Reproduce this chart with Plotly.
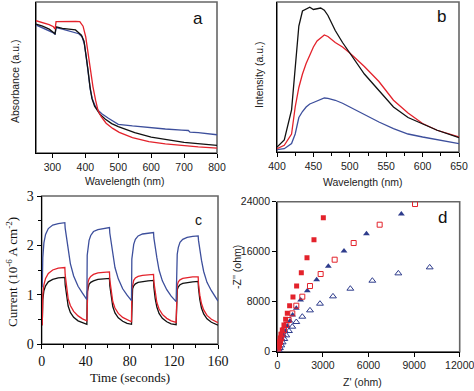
import plotly.graph_objects as go

# ---------------- Panel a: absorbance ----------------
a_black_x = [250, 270, 290, 303, 308, 311, 330, 350, 370, 378, 388, 396, 402, 408, 414, 420, 428, 436, 445,
             460, 480, 500, 550, 600, 650, 700, 750, 800]
a_black_y = [0.854, 0.84, 0.82, 0.80, 0.79, 0.836, 0.825, 0.82, 0.815, 0.80, 0.78, 0.74, 0.66, 0.55, 0.44, 0.36,
             0.31, 0.28, 0.255, 0.225, 0.195, 0.175, 0.135, 0.105, 0.085, 0.07, 0.06, 0.05]
a_red_x = [250, 270, 290, 303, 308, 311, 330, 350, 370, 383, 393, 401, 408, 415, 423, 431, 438, 448, 463,
           483, 503, 543, 593, 643, 693, 743, 800]
a_red_y = [0.876, 0.865, 0.85, 0.836, 0.82, 0.87, 0.872, 0.874, 0.872, 0.87, 0.84, 0.77, 0.66, 0.55, 0.44,
           0.35, 0.285, 0.24, 0.197, 0.163, 0.137, 0.102, 0.075, 0.06, 0.049, 0.04, 0.032]
a_blue_x = [250, 270, 290, 303, 308, 311, 330, 350, 370, 380, 390, 397, 403, 409, 415, 421, 430, 440, 450,
            470, 490, 500, 543, 593, 643, 693, 713, 718, 743, 800]
a_blue_y = [0.848, 0.83, 0.81, 0.796, 0.785, 0.83, 0.82, 0.81, 0.80, 0.79, 0.77, 0.72, 0.63, 0.52, 0.42, 0.36,
            0.31, 0.28, 0.26, 0.23, 0.20, 0.19, 0.179, 0.168, 0.159, 0.152, 0.149, 0.138, 0.135, 0.121]
a_ticks = [300, 400, 500, 600, 700, 800]

# ---------------- Panel b: PL intensity ----------------
b_x = [400, 410, 420, 425, 430, 435, 440, 445, 450, 455, 460, 465, 470, 480, 490, 500, 520, 540, 560, 580,
       600, 620, 650]
b_black = [0.033, 0.08, 0.28, 0.57, 0.84, 0.94, 0.95, 0.965, 0.95, 0.955, 0.96, 0.945, 0.91, 0.81, 0.73,
           0.66, 0.52, 0.41, 0.30, 0.23, 0.185, 0.145, 0.096]
b_red = [0.022, 0.045, 0.12, 0.30, 0.43, 0.52, 0.59, 0.65, 0.70, 0.74, 0.76, 0.78, 0.77, 0.73, 0.70, 0.66,
         0.57, 0.47, 0.345, 0.26, 0.19, 0.145, 0.10]
b_blue = [0.016, 0.022, 0.056, 0.12, 0.23, 0.27, 0.30, 0.32, 0.33, 0.34, 0.35, 0.36, 0.357, 0.345, 0.325,
          0.30, 0.245, 0.20, 0.156, 0.12, 0.10, 0.082, 0.056]
b_ticks = [400, 450, 500, 550, 600, 650]

# ---------------- Panel c: photocurrent ----------------
c_time = [0.5, 1.0, 2.0, 3.5, 6, 10, 15, 21,
          21.3, 22.5, 24, 26, 29, 33, 37, 41,
          41.3, 42, 43, 44.5, 47, 51, 56, 61.5,
          61.8, 63, 64.5, 66.5, 69.5, 73.5, 77.5, 81.5,
          81.8, 82.5, 83.5, 85, 87.5, 91.5, 96.5, 101.5,
          101.8, 103, 104.5, 106.5, 109.5, 113.5, 117.5, 122,
          122.3, 123, 124, 125.5, 128, 132, 137, 142,
          142.3, 143.5, 145, 147, 150, 154, 157, 160]
c_blue = [1.15, 1.75, 2.05, 2.22, 2.34, 2.41, 2.44, 2.46,
          2.35, 2.15, 1.92, 1.63, 1.38, 1.17, 1.03, 0.90,
          1.80, 1.97, 2.10, 2.20, 2.28, 2.32, 2.34, 2.36,
          2.25, 2.05, 1.82, 1.55, 1.32, 1.12, 0.99, 0.88,
          1.72, 1.88, 2.02, 2.12, 2.19, 2.23, 2.25, 2.26,
          2.15, 1.95, 1.75, 1.50, 1.28, 1.10, 0.97, 0.86,
          1.67, 1.82, 1.96, 2.06, 2.12, 2.16, 2.18, 2.19,
          2.10, 1.90, 1.70, 1.47, 1.25, 1.08, 0.98, 0.87]
c_red = [0.38, 1.00, 1.20, 1.33, 1.43, 1.50, 1.54, 1.55,
         1.40, 1.12, 0.92, 0.78, 0.66, 0.57, 0.51, 0.47,
         1.12, 1.25, 1.32, 1.37, 1.41, 1.44, 1.45, 1.46,
         1.30, 1.05, 0.86, 0.73, 0.62, 0.54, 0.49, 0.45,
         1.10, 1.22, 1.29, 1.34, 1.37, 1.39, 1.40, 1.41,
         1.26, 1.02, 0.84, 0.71, 0.60, 0.52, 0.47, 0.44,
         1.08, 1.19, 1.26, 1.30, 1.33, 1.35, 1.36, 1.36,
         1.22, 0.99, 0.82, 0.69, 0.58, 0.50, 0.46, 0.43]
c_black = [0.38, 0.90, 1.08, 1.18, 1.26, 1.31, 1.34, 1.35,
           1.20, 0.95, 0.77, 0.64, 0.54, 0.47, 0.43, 0.40,
           1.05, 1.15, 1.21, 1.25, 1.28, 1.31, 1.32, 1.33,
           1.18, 0.94, 0.76, 0.63, 0.53, 0.46, 0.42, 0.40,
           1.03, 1.12, 1.18, 1.22, 1.25, 1.27, 1.28, 1.29,
           1.15, 0.92, 0.75, 0.62, 0.52, 0.45, 0.41, 0.39,
           1.00, 1.10, 1.16, 1.20, 1.23, 1.25, 1.26, 1.27,
           1.13, 0.90, 0.73, 0.61, 0.51, 0.44, 0.41, 0.38]
c_xticks = [0, 40, 80, 120, 160]
c_yticks = [0, 1, 2, 3]

# ---------------- Panel d: Nyquist ----------------
d_rf_x = [3028, 2413, 1953, 1580, 1272, 1031, 812, 658, 548, 439, 329, 241, 175, 132, 88, 44]
d_rf_y = [21440, 17920, 15040, 12640, 10507, 8747, 7360, 6133, 5173, 4267, 3467, 2773, 2133, 1547, 1013, 533]
d_ro_x = [9061, 6735, 5024, 3774, 2852, 2150, 1645, 1250, 987, 746, 592, 439, 329, 241, 175, 110, 66]
d_ro_y = [23627, 20320, 17387, 14720, 12427, 10507, 8800, 7360, 6133, 5067, 4267, 3467, 2773, 2133, 1547, 960, 480]
d_bf_x = [8161, 5866, 4388, 3357, 2589, 1975, 1536, 1250, 1009, 834, 658, 527, 417, 329, 241, 154, 88]
d_bf_y = [22027, 18880, 16107, 13653, 11520, 9760, 8267, 6933, 5867, 4907, 4107, 3307, 2613, 1973, 1440, 907, 480]
d_bo_x = [10026, 7964, 6253, 4805, 3664, 2808, 2150, 1645, 1250, 987, 768, 592, 461, 351, 263, 175, 110]
d_bo_y = [13493, 12533, 11360, 10080, 8853, 7680, 6613, 5600, 4747, 4000, 3307, 2613, 2027, 1493, 1013, 587, 267]
d_xticks = [0, 3000, 6000, 9000, 12000]
d_yticks = [0, 8000, 16000, 24000]

BLACK = "#111111"
RED = "#e3222b"
BLUE = "#3d4f9c"
NAVY = "#2e3c8c"
ARIAL = "Arial, Liberation Sans, sans-serif"
TIMES = "Times New Roman, Liberation Serif, serif"

fig = go.Figure()
lw = 1.3
fig.add_trace(go.Scatter(x=a_blue_x, y=a_blue_y, mode="lines", line=dict(color=BLUE, width=lw), xaxis="x", yaxis="y"))
fig.add_trace(go.Scatter(x=a_black_x, y=a_black_y, mode="lines", line=dict(color=BLACK, width=lw), xaxis="x", yaxis="y"))
fig.add_trace(go.Scatter(x=a_red_x, y=a_red_y, mode="lines", line=dict(color=RED, width=lw), xaxis="x", yaxis="y"))

fig.add_trace(go.Scatter(x=b_x, y=b_blue, mode="lines", line=dict(color=BLUE, width=lw), xaxis="x2", yaxis="y2"))
fig.add_trace(go.Scatter(x=b_x, y=b_red, mode="lines", line=dict(color=RED, width=lw), xaxis="x2", yaxis="y2"))
fig.add_trace(go.Scatter(x=b_x, y=b_black, mode="lines", line=dict(color=BLACK, width=lw), xaxis="x2", yaxis="y2"))

fig.add_trace(go.Scatter(x=c_time, y=c_black, mode="lines", line=dict(color=BLACK, width=lw), xaxis="x3", yaxis="y3"))
fig.add_trace(go.Scatter(x=c_time, y=c_red, mode="lines", line=dict(color=RED, width=lw), xaxis="x3", yaxis="y3"))
fig.add_trace(go.Scatter(x=c_time, y=c_blue, mode="lines", line=dict(color=BLUE, width=lw), xaxis="x3", yaxis="y3"))

fig.add_trace(go.Scatter(x=d_bo_x, y=d_bo_y, mode="markers", xaxis="x4", yaxis="y4",
                         marker=dict(symbol="triangle-up-open", size=6, color=NAVY, line=dict(width=1, color=NAVY))))
fig.add_trace(go.Scatter(x=d_bf_x, y=d_bf_y, mode="markers", xaxis="x4", yaxis="y4",
                         marker=dict(symbol="triangle-up", size=6, color=NAVY)))
fig.add_trace(go.Scatter(x=d_ro_x, y=d_ro_y, mode="markers", xaxis="x4", yaxis="y4",
                         marker=dict(symbol="square-open", size=5, color=RED, line=dict(width=1, color=RED))))
fig.add_trace(go.Scatter(x=d_rf_x, y=d_rf_y, mode="markers", xaxis="x4", yaxis="y4",
                         marker=dict(symbol="square", size=5, color=RED)))

def W(px):
    return px / 474.0

def H(py):
    return 1 - py / 391.0

common = dict(showline=True, linecolor="#000", linewidth=1.3, mirror=False, showgrid=False, zeroline=False,
              ticklen=4, tickcolor="#000", tickwidth=1, automargin=False, ticklabeloverflow="allow")
font_a = dict(family=ARIAL, size=10.5, color="#222")
font_t = dict(family=TIMES, size=14, color="#111")

fig.update_layout(
    width=474, height=391, margin=dict(l=0, r=0, t=0, b=0, autoexpand=False),
    paper_bgcolor="white", plot_bgcolor="white", showlegend=False,
    xaxis=dict(domain=[W(36), W(217)], range=[250, 800], tickvals=a_ticks, ticktext=[str(v) for v in a_ticks],
               tickfont=font_a, anchor="y", ticks="outside", **common),
    yaxis=dict(domain=[H(153), H(2)], range=[0, 1], showticklabels=False, anchor="x", ticks="", **common),
    xaxis2=dict(domain=[W(277), W(459)], range=[400, 650], tickvals=b_ticks, ticktext=[str(v) for v in b_ticks],
                tickfont=font_a, anchor="y2", ticks="outside",
                minor=dict(dtick=25, ticks="outside", ticklen=2.5, tickcolor="#000"), **common),
    yaxis2=dict(domain=[H(152), H(2)], range=[0, 1], showticklabels=False, anchor="x2", ticks="", **common),
    xaxis3=dict(domain=[W(41.7), W(218)], range=[0, 160], tickvals=c_xticks, ticktext=[str(v) for v in c_xticks],
                tickfont=font_t, anchor="y3", ticks="outside",
                minor=dict(dtick=20, ticks="outside", ticklen=2.5, tickcolor="#000"), **common),
    yaxis3=dict(domain=[H(344), H(196)], range=[0, 3], tickvals=c_yticks, ticktext=[str(v) for v in c_yticks],
                tickfont=font_t, anchor="x3", ticks="outside",
                minor=dict(dtick=0.5, ticks="outside", ticklen=2.5, tickcolor="#000"), **common),
    xaxis4=dict(domain=[W(277.3), W(459.7)], range=[0, 12000], tickvals=d_xticks,
                ticktext=[str(v) for v in d_xticks], tickfont=font_a, anchor="y4", ticks="outside", **common),
    yaxis4=dict(domain=[H(351.7), H(201.7)], range=[0, 24000], tickvals=d_yticks,
                ticktext=[str(v) for v in d_yticks], tickfont=font_a, anchor="x4", ticks="outside", **common),
)

# frames (gray top/right borders)
for xr, yr in [("x", "y"), ("x2", "y2"), ("x3", "y3"), ("x4", "y4")]:
    fig.add_shape(type="rect", xref=xr + " domain", yref=yr + " domain", x0=0, x1=1, y0=0, y1=1,
                  line=dict(color="#666", width=1.6), fillcolor="rgba(0,0,0,0)", layer="below")

ann = []
def add(text, x, y, font, angle=0, xanchor="center", yanchor="middle"):
    ann.append(dict(text=text, x=W(x), y=H(y), xref="paper", yref="paper", showarrow=False,
                    font=font, textangle=angle, xanchor=xanchor, yanchor=yanchor))

lab = dict(family=ARIAL, size=10.5, color="#222")
add("Wavelength (nm)", 125, 181, lab)
add("Absorbance (a.u.)", 15, 82, lab, angle=-90)
add("Wavelength (nm)", 363, 182, lab)
add("Intensity (a.u.)", 259, 75, lab, angle=-90)
add("Time (seconds)", 130, 377, dict(family=TIMES, size=13, color="#111"))
add("Current (10<sup>-6</sup> A cm<sup>-2</sup>)", 12, 272, dict(family=TIMES, size=13, color="#111"), angle=-90)
add("Z' (ohm)", 362, 382, lab)
add("-Z'' (ohm)", 237, 267, lab, angle=-90)
add("a", 198, 18, dict(family=ARIAL, size=17, color="#111"))
add("b", 441, 17, dict(family=ARIAL, size=17, color="#111"))
add("c", 198, 220, dict(family=ARIAL, size=14, color="#111"))
add("d", 442, 217, dict(family=ARIAL, size=17, color="#111"))
fig.update_layout(annotations=ann)

fig.write_html("out.html", config={"displayModeBar": False},
               post_script="document.body.style.margin='0';document.body.style.padding='0';"
                           "document.documentElement.style.overflow='hidden';")
